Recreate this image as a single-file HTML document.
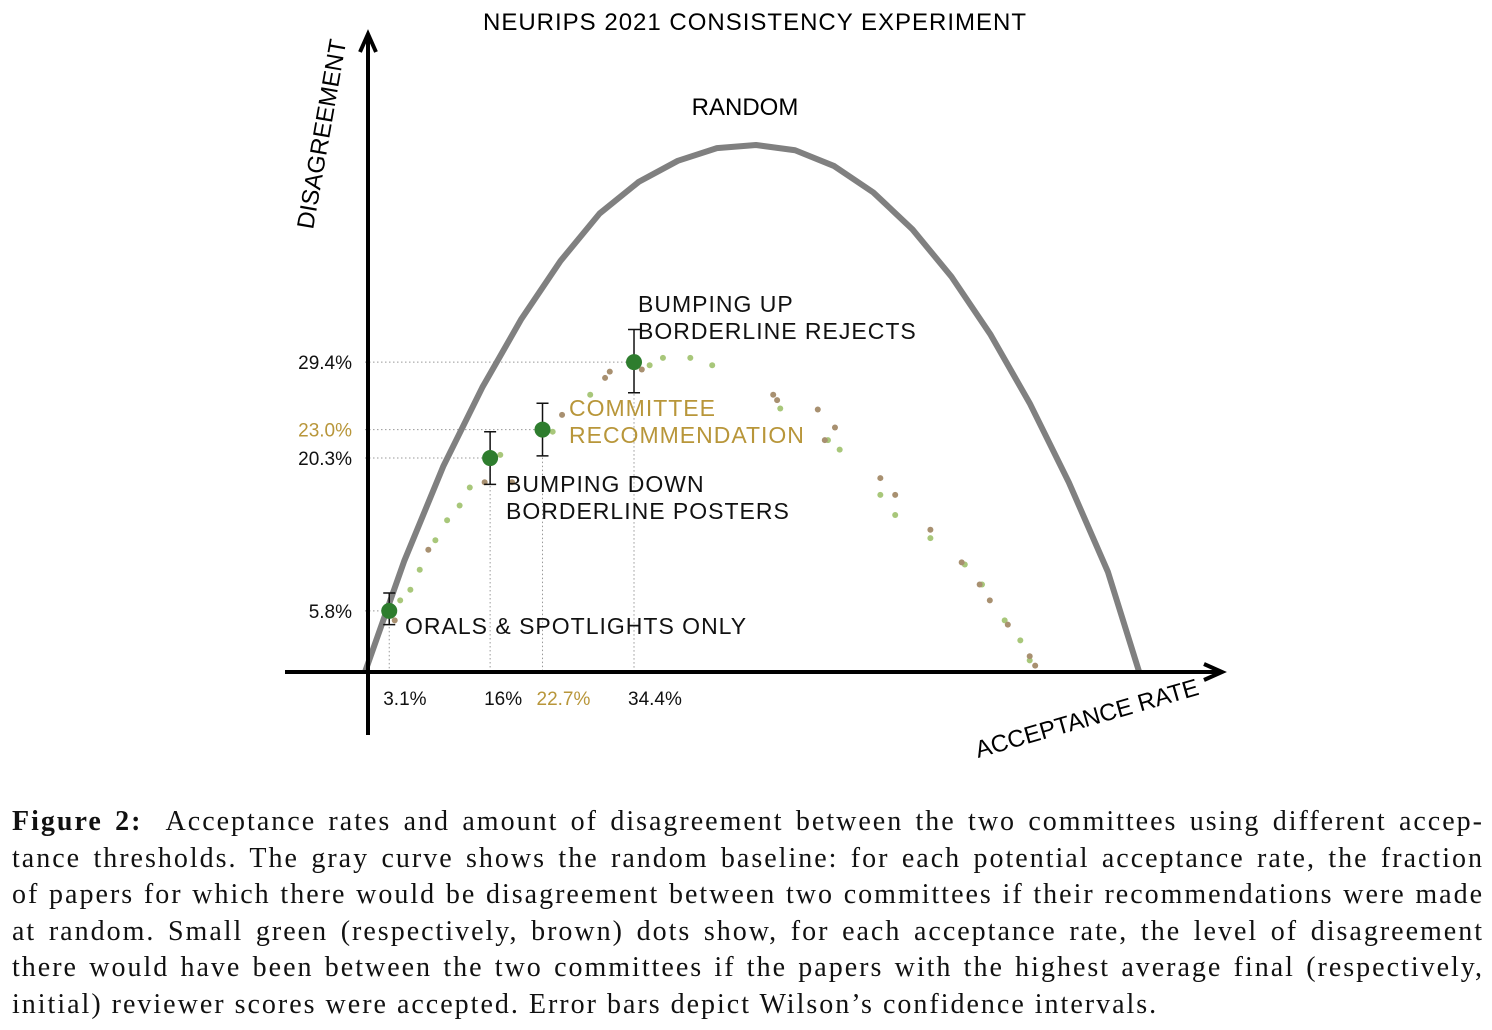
<!DOCTYPE html>
<html><head><meta charset="utf-8">
<style>
html,body{margin:0;padding:0;background:#fff;}
body{width:1492px;height:1030px;position:relative;overflow:hidden;}
svg{position:absolute;left:0;top:0;}
.hand{font-family:"Liberation Sans","DejaVu Sans",sans-serif;}
#caption{position:absolute;left:12px;top:804px;width:1472px;font-family:"Liberation Serif",serif;font-size:28px;letter-spacing:2px;line-height:36.5px;color:#111;margin:0;}
#caption div{white-space:nowrap;text-align:justify;text-align-last:justify;height:36.5px;}
#caption div.last{text-align-last:left;}
</style></head>
<body>
<svg width="1492" height="800" id="chart">
</svg>
<div id="caption">
<div><b>Figure 2:</b>&nbsp; Acceptance rates and amount of disagreement between the two committees using different accep-</div>
<div>tance thresholds. The gray curve shows the random baseline: for each potential acceptance rate, the fraction</div>
<div>of papers for which there would be disagreement between two committees if their recommendations were made</div>
<div>at random. Small green (respectively, brown) dots show, for each acceptance rate, the level of disagreement</div>
<div>there would have been between the two committees if the papers with the highest average final (respectively,</div>
<div class="last">initial) reviewer scores were accepted. Error bars depict Wilson’s confidence intervals.</div>
</div>
<script>
const randomX=[0,5,10,15,20,25,30,35,40,45,50,55,60,65,70,75,80,85,90,95,99];
const randomY=[0,10.5,19.5,27,33.5,39,43.5,46.5,48.5,49.7,50,49.5,48,45.5,42,37.5,32,25.5,18,9.5,0];
const greenX=[4.5,5.8,7.0,9.0,10.5,12.1,13.4,17.3,24.0,28.8,36.4,38.1,41.6,44.4,53.1,59.2,60.7,65.9,67.8,72.3,76.7,78.9,81.8,83.8,85.0];
const greenY=[6.8,7.8,9.7,12.5,14.4,15.8,17.5,20.6,22.8,26.3,29.1,29.8,29.8,29.1,25.0,22.0,21.1,16.8,14.9,12.7,10.2,8.3,4.9,3.0,1.1];
const brownX=[3.8,8.1,15.3,18.8,25.2,30.7,31.3,35.4,52.2,52.7,57.9,58.8,60.1,65.9,67.8,72.3,76.3,78.6,79.9,82.2,85.0,85.7];
const brownY=[4.9,11.6,18.0,18.0,24.4,27.9,28.5,28.7,26.3,25.8,24.9,22.0,23.2,18.4,16.8,13.5,10.4,8.3,6.8,4.5,1.5,0.6];
const pointX=[3.1,16,22.7,34.4];
const pointY=[5.8,20.3,23.0,29.4];
const errLo=[4.5,17.8,20.5,26.5];
const errHi=[7.5,22.8,25.5,32.5];
const xLabels=["3.1%","16%","22.7%","34.4%"];
const yLabels=["5.8%","20.3%","23.0%","29.4%"];
const labelColors=["#111","#111","#b8963a","#111"];

const X=v=>365+v*7.82, Y=v=>672-v*10.54;
const svg=document.getElementById('chart');
const NS='http://www.w3.org/2000/svg';
function mk(t,a,p){const e=document.createElementNS(NS,t);for(const k in a)e.setAttribute(k,a[k]);(p||svg).appendChild(e);return e;}

let t=mk('text',{x:755,y:30,'text-anchor':'middle','font-size':24,class:'hand','letter-spacing':1});t.textContent='NEURIPS 2021 CONSISTENCY EXPERIMENT';



for(let i=0;i<pointX.length;i++){
 let g=mk('path',{d:`M${X(0)} ${Y(pointY[i])}H${X(pointX[i])}M${X(pointX[i])} ${Y(pointY[i])}V${Y(0)}`,stroke:'#999','stroke-width':1,'stroke-dasharray':'1.5 2.5',fill:'none'});
 
 
}
let d='';randomX.forEach((v,i)=>{d+=(i?'L':'M')+X(v)+' '+Y(randomY[i]);});
let rc=mk('path',{d:d,stroke:'#808080','stroke-width':6,fill:'none','stroke-linejoin':'round'});


t=mk('text',{x:745,y:115,'text-anchor':'middle','font-size':24,class:'hand'});t.textContent='RANDOM';


greenX.forEach((v,i)=>{let c=mk('circle',{cx:X(v),cy:Y(greenY[i]),r:3,fill:'#a8c77a'});
 
 });
brownX.forEach((v,i)=>{let c=mk('circle',{cx:X(v),cy:Y(brownY[i]),r:3,fill:'#a89070'});
 
 });
let ax=mk('path',{d:'M368 735V36M360 52L368 34L376 52',stroke:'#000','stroke-width':4,fill:'none'});


ax=mk('path',{d:'M285 672H1220M1204 664L1222 672L1204 680',stroke:'#000','stroke-width':4,fill:'none'});


t=mk('text',{x:0,y:0,'font-size':24,class:'hand',transform:'translate(313,230) rotate(-80)'});t.textContent='DISAGREEMENT';


t=mk('text',{x:0,y:0,'font-size':24,class:'hand',transform:'translate(978,758) rotate(-16)'});t.textContent='ACCEPTANCE RATE';


for(let i=0;i<pointX.length;i++){
 const cx=X(pointX[i]);
 let e=mk('path',{d:`M${cx} ${Y(errLo[i])}V${Y(errHi[i])}M${cx-6} ${Y(errLo[i])}h12M${cx-6} ${Y(errHi[i])}h12`,stroke:'#111','stroke-width':1.5,fill:'none'});
 
 
 let c=mk('circle',{cx:cx,cy:Y(pointY[i]),r:8,fill:'#2e7d2e'});
 
 
 let xl=mk('text',{x:cx-6,y:705,'text-anchor':'start','font-size':19,class:'hand',fill:labelColors[i]});xl.textContent=xLabels[i];
 
 
 let yl=mk('text',{x:352,y:Y(pointY[i])+7,'text-anchor':'end','font-size':19,class:'hand',fill:labelColors[i]});yl.textContent=yLabels[i];
 
 
}
function lab(lines,x,y,col,name){lines.forEach((s,k)=>{let q=mk('text',{x:x,y:y+k*27,'font-size':23,class:'hand',fill:col,'letter-spacing':1});q.textContent=s;
 
 });}
lab(['ORALS & SPOTLIGHTS ONLY'],405,634,'#111','orals-annotation');
lab(['BUMPING DOWN','BORDERLINE POSTERS'],506,492,'#111','bumping-down-annotation');
lab(['COMMITTEE','RECOMMENDATION'],569,416,'#b8963a','committee-annotation');
lab(['BUMPING UP','BORDERLINE REJECTS'],638,312,'#111','bumping-up-annotation');
</script>
</body></html>
